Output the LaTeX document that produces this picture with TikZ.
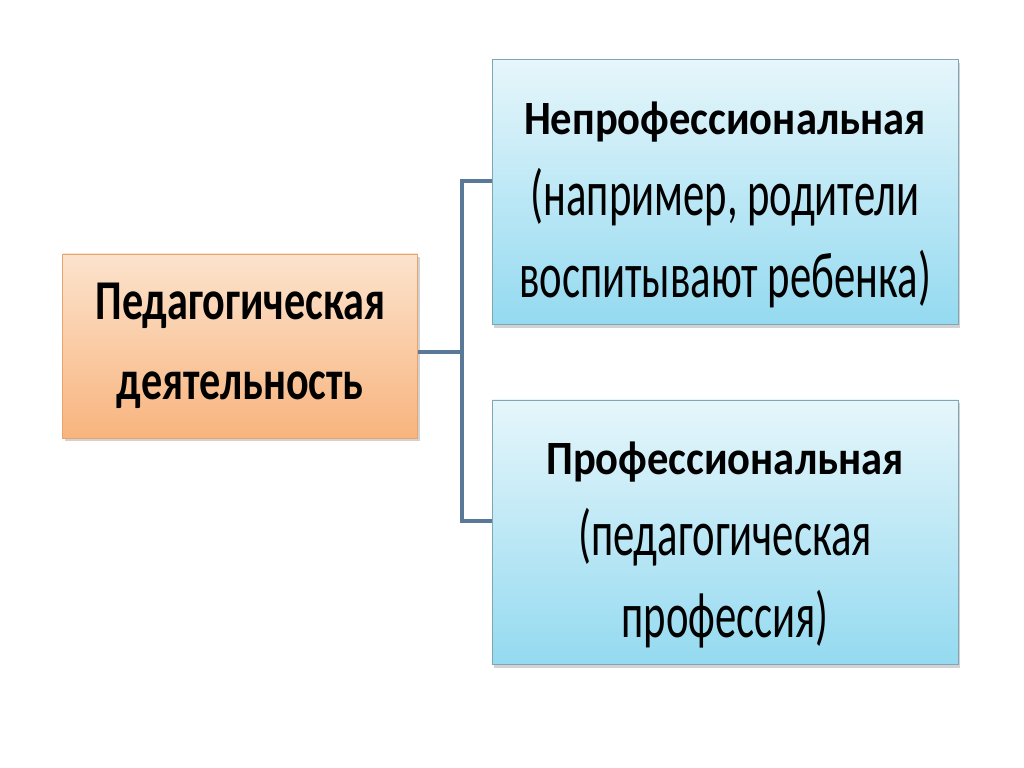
\documentclass[tikz,border=0pt]{standalone}
\usepackage{fontspec}
\setmainfont{Carlito}[FakeStretch=0.66]
\newfontfamily\kindfont{Carlito}[FakeStretch=0.75]
\newfontfamily\headfont{Carlito}[FakeStretch=0.89]
\usetikzlibrary{positioning,shadows}

\definecolor{peach}{HTML}{FCE3CD}
\definecolor{peachdark}{HTML}{F8B47E}
\definecolor{peachedge}{HTML}{E8A46C}
\definecolor{skylight}{HTML}{E6F6FB}
\definecolor{skydark}{HTML}{94DAF0}
\definecolor{skyedge}{HTML}{7FA6B6}
\definecolor{linkblue}{HTML}{5A7898}

\newcommand{\sorthead}[1]{{\headfont\bfseries\fontsize{34}{58}\selectfont\rule{0pt}{41pt}#1}}

\tikzset{
  kind/.style={draw=peachedge, line width=0.6pt, rectangle,
    top color=peach, bottom color=peachdark,
    minimum width=8.875cm, minimum height=4.6cm, align=center,
    drop shadow={shadow xshift=0.06cm, shadow yshift=-0.08cm, opacity=0.35},
    font=\kindfont\fontsize{40}{57}\selectfont\bfseries},
  sort/.style={draw=skyedge, line width=0.6pt, rectangle,
    top color=skylight, bottom color=skydark,
    minimum width=11.65cm, minimum height=6.62cm, align=center,
    drop shadow={shadow xshift=0.06cm, shadow yshift=-0.08cm, opacity=0.35},
    font=\fontsize{46}{58}\selectfont},
  link/.style={draw=linkblue, line width=3pt}
}

\begin{document}
\begin{tikzpicture}
  \useasboundingbox[fill=white] (0,0) rectangle (25.6,19.2);

  \node [kind] (ped) at (6.01,10.55) {Педагогическая\\деятельность};
  \node [sort] (nonprof) at (18.125,14.4)
    {\sorthead{Непрофессиональная}\\(например, родители\\воспитывают ребенка)};
  \node [sort] (prof) at (18.125,5.89)
    {\sorthead{Профессиональная}\\(педагогическая\\профессия)};

  \coordinate [right=1.1cm of ped.east, yshift=-0.15cm] (fork);
  \draw[link] ([yshift=-0.15cm]ped.east) -- (fork);
  \draw[link] (fork) |- ([yshift=0.28cm]nonprof.west);
  \draw[link] (fork) |- ([yshift=0.28cm]prof.west);
\end{tikzpicture}
\end{document}
